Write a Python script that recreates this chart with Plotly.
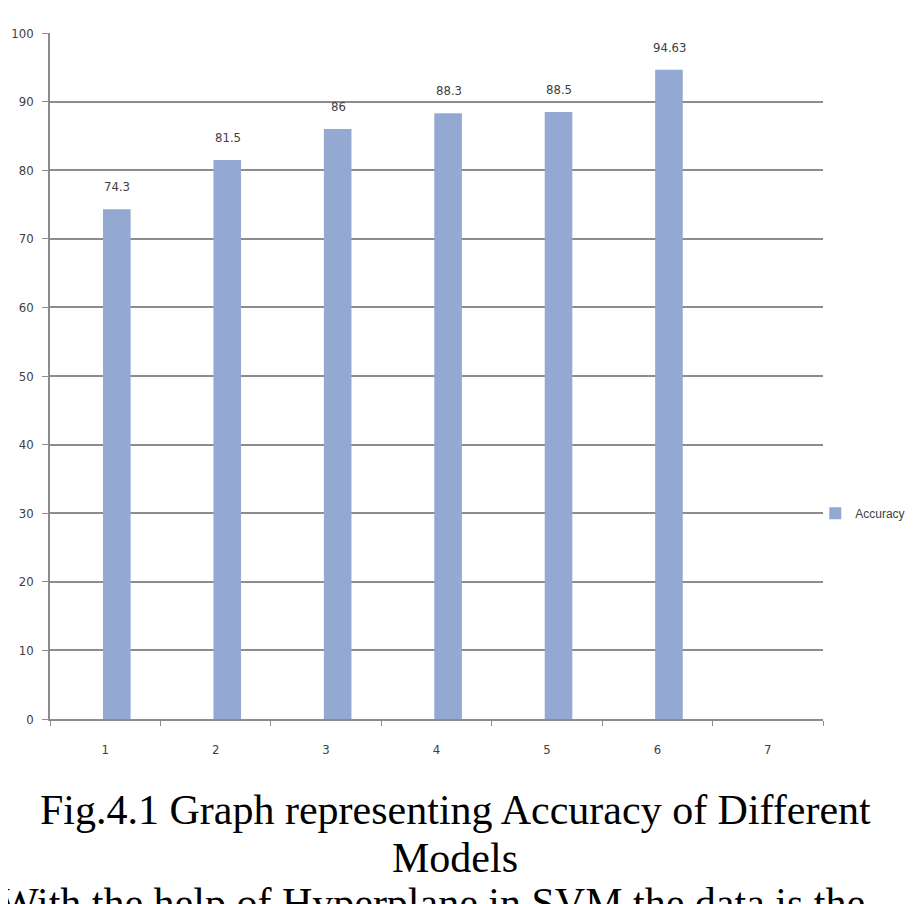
import plotly.graph_objects as go

# data
models = ["1", "2", "3", "4", "5", "6", "7"]
accuracy = [74.3, 81.5, 86, 88.3, 88.5, 94.63, None]
value_labels = ["74.3", "81.5", "86", "88.3", "88.5", "94.63", ""]

caption_1 = "Fig.4.1 Graph representing Accuracy of Different"
caption_2 = "Models"
caption_3 = "With the help of Hyperplane in SVM the data is the"

bar_color = "#93A9D1"
grid_color = "#8C8C8C"
tick_font = dict(family="Liberation Sans Narrow, DejaVu Sans Condensed, Arial", size=13, color="#404040")
serif = "Liberation Serif, Times New Roman, serif"

fig = go.Figure()
fig.add_trace(go.Bar(
    x=models,
    y=accuracy,
    name="Accuracy",
    marker=dict(color=bar_color, line=dict(width=0)),
    width=0.25,
    offset=-0.02,
    showlegend=True,
))

# value labels above each bar (category axis -> use index position)
for i, (v, lab) in enumerate(zip(accuracy, value_labels)):
    if v is None:
        continue
    fig.add_annotation(x=i, y=v, text=lab, showarrow=False, xshift=12,
                       yanchor="bottom", yshift=13, font=tick_font)

# figure caption below the chart (document text)
fig.add_annotation(xref="paper", yref="paper", x=0.524, y=-0.133, text=caption_1,
                   showarrow=False, yanchor="middle", font=dict(family=serif, size=42, color="#000000"))
fig.add_annotation(xref="paper", yref="paper", x=0.524, y=-0.203, text=caption_2,
                   showarrow=False, yanchor="middle", font=dict(family=serif, size=42, color="#000000"))
fig.add_annotation(xref="paper", yref="paper", x=-0.068, y=-0.268, text=caption_3,
                   showarrow=False, xanchor="left", yanchor="middle", font=dict(family=serif, size=42, color="#000000"))

# page has an 8px body margin, so the figure is shrunk/shifted to compensate
fig.update_layout(
    width=905,
    height=896,
    margin=dict(l=42, r=90, t=25, b=185, autoexpand=False),
    paper_bgcolor="white",
    plot_bgcolor="white",
    bargap=0.75,
    legend=dict(x=0.99, y=0.3, xanchor="left", yanchor="middle",
                font=dict(family="Liberation Sans Narrow, Arial", size=12, color="#404040"),
                bgcolor="rgba(0,0,0,0)", itemwidth=30),
)
fig.update_xaxes(
    type="category",
    tickson="boundaries",
    ticks="outside",
    ticklen=5,
    tickcolor=grid_color,
    showline=True,
    linecolor=grid_color,
    linewidth=1.5,
    showgrid=False,
    tickfont=tick_font,
    ticklabelstandoff=18,
    range=[-0.5, 6.5],
)
fig.update_yaxes(
    range=[0, 100],
    dtick=10,
    ticks="outside",
    ticklen=6,
    tickcolor=grid_color,
    showline=True,
    linecolor=grid_color,
    linewidth=1.5,
    showgrid=True,
    gridcolor=grid_color,
    gridwidth=1.5,
    zeroline=False,
    tickfont=tick_font,
    ticklabelstandoff=6,
)

fig.write_html("out.html")
